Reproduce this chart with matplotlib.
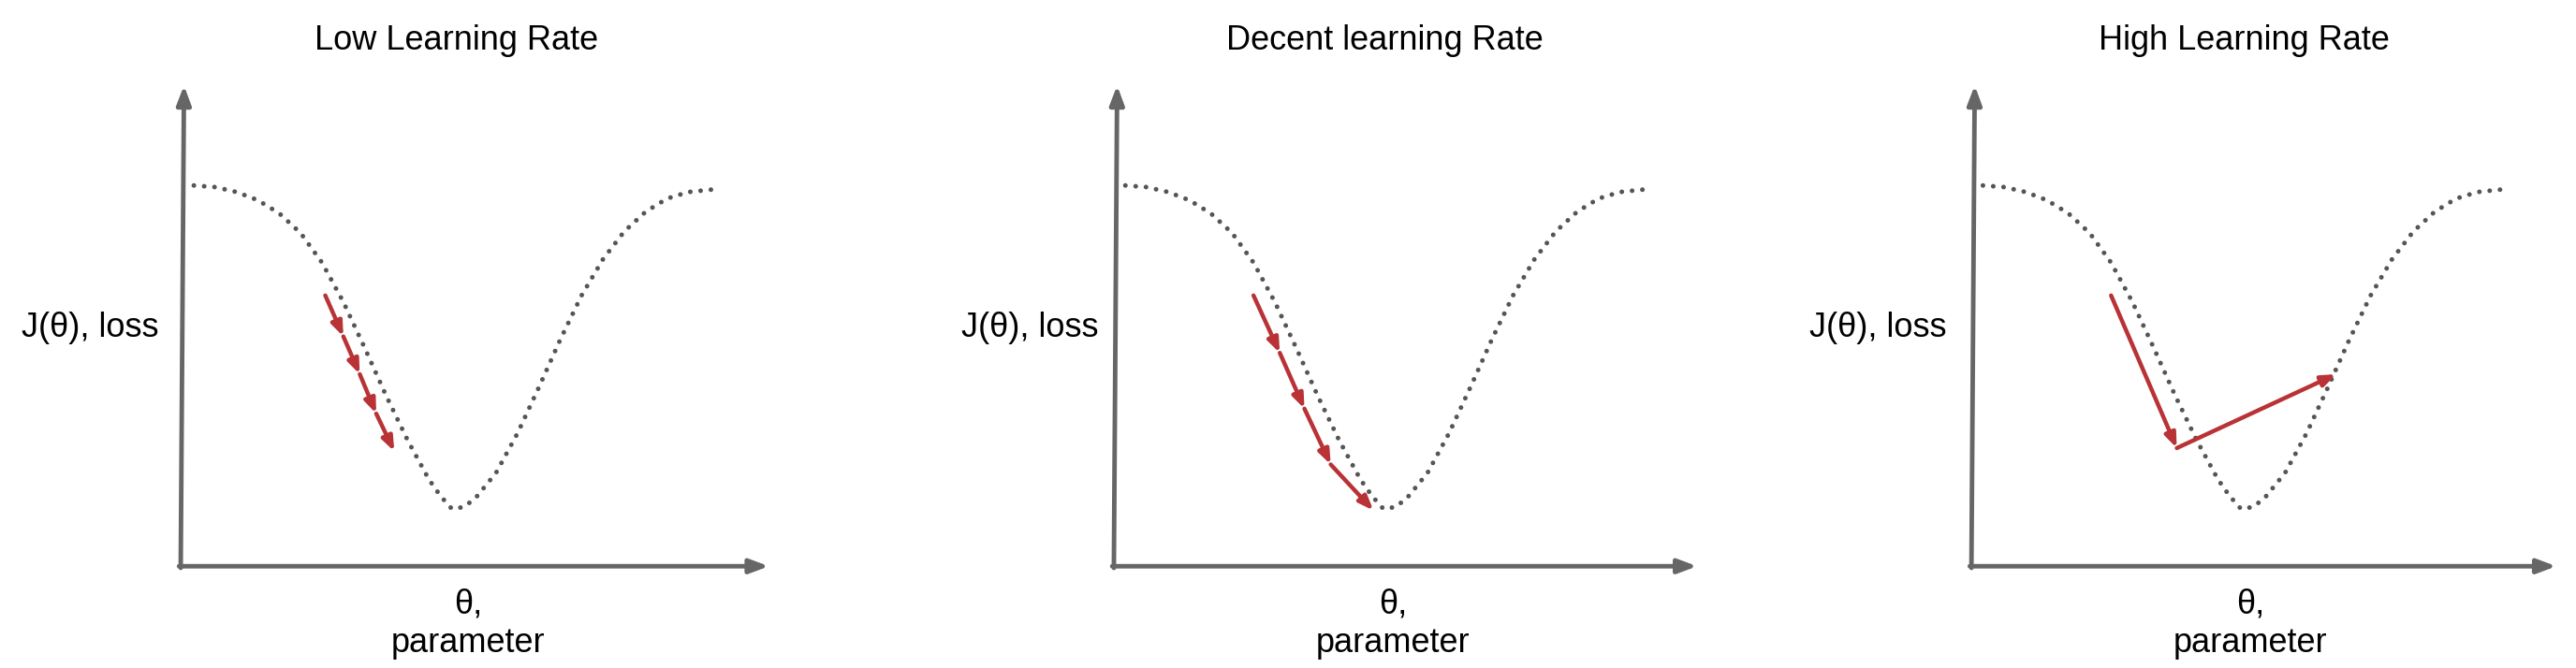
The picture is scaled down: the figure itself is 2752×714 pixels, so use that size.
import matplotlib
matplotlib.use("Agg")
import matplotlib.pyplot as plt

titles = ["Low Learning Rate", "Decent learning Rate", "High Learning Rate"]
ylabel = "J(θ), loss"
xlabel = "θ,\nparameter"

# panel geometry (display units of a 1568x407 canvas)
axis_x0 = [110, 678, 1200]
axis_x1 = [468, 1033, 1556]
title_x = [278, 843, 1366]
ylab_x = [55, 627, 1143]
xlab_x = [285, 848, 1370]

# loss curve shape: offsets (dx from curve start, y), y downward
curve_dx = [0, 13, 26, 39, 52, 65, 78, 91, 104, 117, 130, 143, 150, 157,
            164, 171, 184, 197, 210, 223, 236, 249, 262, 275, 288, 301, 320]
curve_y = [113, 114, 117, 122, 130, 142, 160, 184, 212, 241, 268, 292, 302, 310,
           309, 304, 288, 264, 236, 207, 180, 158, 141, 129, 121, 117, 115]
curve_x0 = [118, 685, 1207]

steps1 = [(198,180),(209,205),(219,228),(229,252),(240,275)]
steps2 = [(763,180),(779,215),(794,249),(810,283),(836,311)]
steps3 = [(1285,180),(1325,273),(1422,228)]
steps = [steps1, steps2, steps3]

fig = plt.figure(figsize=(27.52, 7.14), dpi=100)
ax = fig.add_axes([0, 0, 1, 1])
ax.set_xlim(0, 1568)
ax.set_ylim(407, 0)
ax.axis("off")
plt.rcParams['font.family'] = ['Liberation Sans', 'DejaVu Sans']

gray = "#666666"
red = "#b83236"
for i in range(3):
    x0 = axis_x0[i]
    ax.annotate("", xy=(x0 + 2, 52), xytext=(x0, 346),
                arrowprops=dict(arrowstyle="-|>,head_length=1.2,head_width=0.45", color=gray, lw=3.5, shrinkA=0, shrinkB=0))
    ax.annotate("", xy=(axis_x1[i], 345), xytext=(x0 - 1, 345),
                arrowprops=dict(arrowstyle="-|>,head_length=1.2,head_width=0.45", color=gray, lw=3.5, shrinkA=0, shrinkB=0))
    cx = [curve_x0[i] + d for d in curve_dx]
    ax.plot(cx, curve_y, color="#555555", lw=3.6, linestyle=(0, (0.01, 2.2)), dash_capstyle="round")
    s = steps[i]
    for a, b in zip(s[:-1], s[1:]):
        ax.annotate("", xy=b, xytext=a,
                    arrowprops=dict(arrowstyle="-|>,head_length=0.9,head_width=0.35", color=red, lw=3.2, shrinkA=0, shrinkB=0))
    ax.text(title_x[i], 25, titles[i], ha="center", va="center", fontsize=26)
    ax.text(ylab_x[i], 200, ylabel, ha="center", va="center", fontsize=26)
    ax.text(xlab_x[i], 380, xlabel, ha="center", va="center", fontsize=26, linespacing=1.25)

fig.savefig("out.png", dpi=100)
